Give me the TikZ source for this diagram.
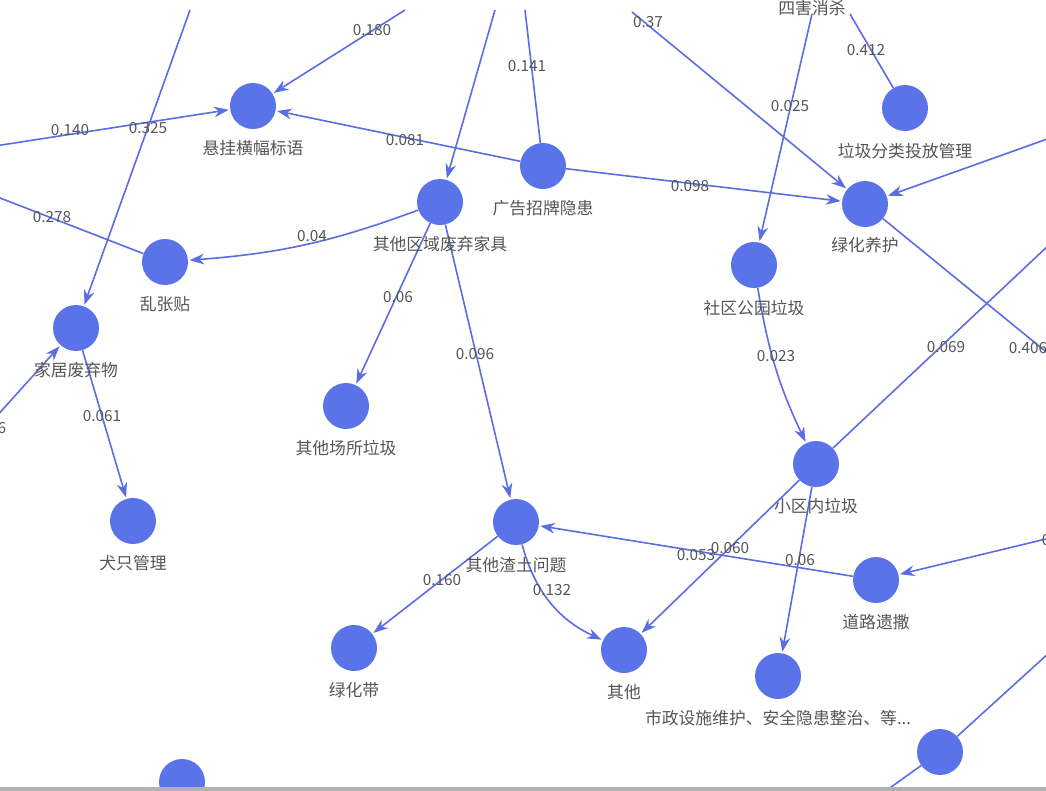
\documentclass[tikz,border=0pt]{standalone}
\usepackage{fontspec}
\setmainfont{Noto Sans CJK SC}
\usetikzlibrary{arrows.meta}
\definecolor{nd}{HTML}{5B73E8}
\definecolor{ed}{HTML}{5B6EE1}
\definecolor{tx}{HTML}{555555}
\tikzset{
  v/.style={circle,fill=nd,minimum size=34.5pt,inner sep=0pt},
  lb/.style={text=tx,font=\fontsize{12.6}{14}\selectfont,inner sep=0pt},
  el/.style={text=tx,font=\fontsize{11.5}{13}\selectfont,inner sep=0pt},
  e/.style={draw=ed,line width=1.2pt,-{Stealth[length=11pt,width=8pt]},shorten >=1pt},
  p/.style={draw=ed,line width=1.2pt}
}
\begin{document}
\begin{tikzpicture}[x=0.75pt,y=-0.75pt]
\useasboundingbox[fill=white] (0,0) rectangle (1046,790);
\begin{scope}
\clip (0,0) rectangle (1046,790);
\node[v] (A) at (253,106) {};
\node[v] (B) at (543,166) {};
\node[v] (C) at (440,202) {};
\node[v] (D) at (165,262) {};
\node[v] (E) at (76,328) {};
\node[v] (F) at (133,521) {};
\node[v] (G) at (346,406) {};
\node[v] (H) at (516,522) {};
\node[v] (I) at (354,648) {};
\node[v] (J) at (624,650) {};
\node[v] (K) at (778,676) {};
\node[v] (L) at (876,580) {};
\node[v] (M) at (816,464) {};
\node[v] (N) at (754,265) {};
\node[v] (O) at (865,204) {};
\node[v] (P) at (905,108) {};
\node[v] (Q) at (940,752) {};
\node[v] (R) at (182,782) {};
\coordinate (t1) at (405,10); \coordinate (t2) at (-5,146);
\coordinate (t3) at (190,10); \coordinate (t4) at (-5,196);
\coordinate (t5) at (495,10); \coordinate (t6) at (525,10);
\coordinate (t7) at (632,12); \coordinate (t8) at (812,14);
\coordinate (t9) at (850,14); \coordinate (t10) at (1050,138);
\coordinate (t11) at (1050,355); \coordinate (t12) at (1050,244);
\coordinate (t13) at (1050,538); \coordinate (t14) at (-5,418);
\coordinate (t15) at (1050,652); \coordinate (t16) at (880,795);
\draw[e] (t1) -- (A); \draw[e] (t2) -- (A); \draw[e] (t3) -- (E);
\draw[p] (D) -- (t4); \draw[e] (t5) -- (C); \draw[p] (B) -- (t6);
\draw[e] (t7) -- (O); \draw[e] (t8) -- (N); \draw[p] (P) -- (t9);
\draw[e] (t10) -- (O); \draw[p] (O) -- (t11); \draw[p] (M) -- (t12);
\draw[e] (t13) -- (L); \draw[e] (t14) -- (E); \draw[p] (Q) -- (t15); \draw[p] (t16) -- (Q);
\draw[e] (B) -- (A); \draw[e] (B) -- (O);
\draw[e] (C) to[bend left=8] (D); \draw[e] (C) -- (G); \draw[e] (C) -- (H);
\draw[e] (N) to[bend right=8] (M); \draw[e] (M) -- (J); \draw[e] (M) -- (K);
\draw[e] (L) -- (H); \draw[e] (H) -- (I); \draw[e] (H) to[bend right=25] (J);
\draw[e] (E) -- (F);
\end{scope}
\node[lb] at (253,148) {悬挂横幅标语};
\node[lb] at (543,208) {广告招牌隐患};
\node[lb] at (440,244) {其他区域废弃家具};
\node[lb] at (165,304) {乱张贴};
\node[lb] at (76,370) {家居废弃物};
\node[lb] at (133,563) {犬只管理};
\node[lb] at (346,448) {其他场所垃圾};
\node[lb] at (516,565) {其他渣土问题};
\node[lb] at (354,690) {绿化带};
\node[lb] at (624,692) {其他};
\node[lb] at (778,718) {市政设施维护、安全隐患整治、等...};
\node[lb] at (876,622) {道路遗撒};
\node[lb] at (816,506) {小区内垃圾};
\node[lb] at (754,308) {社区公园垃圾};
\node[lb] at (865,245) {绿化养护};
\node[lb] at (905,151) {垃圾分类投放管理};
\node[lb] at (812,8) {四害消杀};
\node[el] at (372,30) {0.180};
\node[el] at (70,130) {0.140};
\node[el] at (148,128) {0.325};
\node[el] at (52,217) {0.278};
\node[el] at (527,66) {0.141};
\node[el] at (648,22) {0.37};
\node[el] at (405,140) {0.081};
\node[el] at (690,186) {0.098};
\node[el] at (790,106) {0.025};
\node[el] at (866,50) {0.412};
\node[el] at (312,236) {0.04};
\node[el] at (398,297) {0.06};
\node[el] at (475,354) {0.096};
\node[el] at (776,356) {0.023};
\node[el] at (946,347) {0.069};
\node[el] at (1028,348) {0.406};
\node[el] at (102,416) {0.061};
\node[el] at (2,428) {6};
\node[el] at (696,555) {0.053};
\node[el] at (730,548) {0.060};
\node[el] at (800,560) {0.06};
\node[el] at (442,580) {0.160};
\node[el] at (552,590) {0.132};
\node[el] at (1046,540) {0};
\draw[draw=gray!60,line width=3pt] (0,789) -- (1046,789);
\end{tikzpicture}
\end{document}
